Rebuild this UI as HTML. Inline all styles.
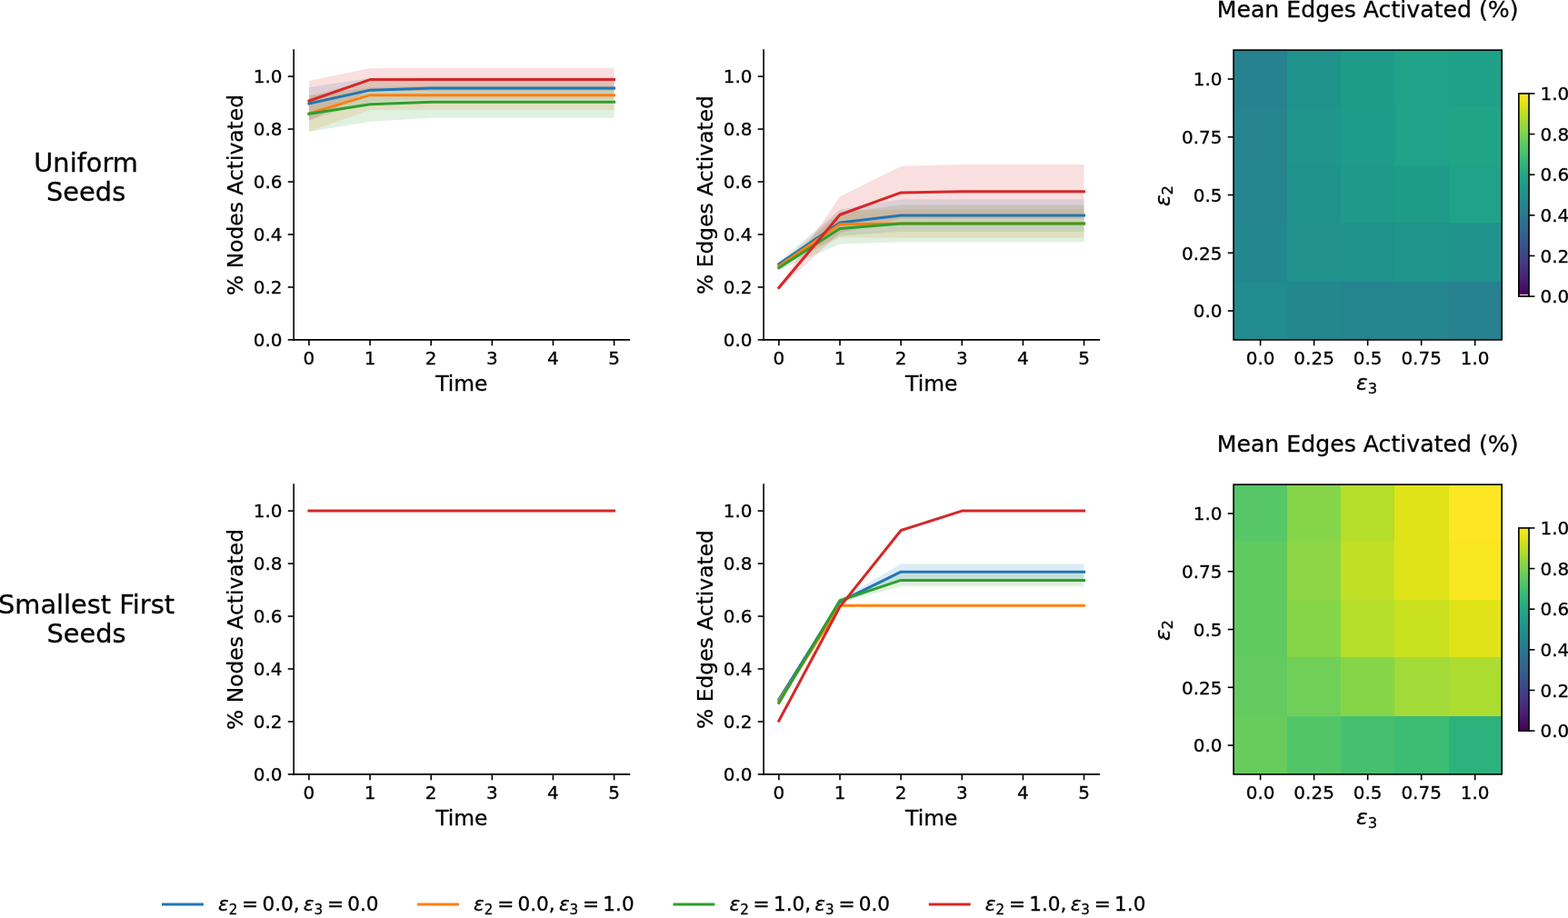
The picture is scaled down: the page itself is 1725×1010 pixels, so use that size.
<!DOCTYPE html>
<html><head><meta charset="utf-8"><title>Figure</title><style>html,body{margin:0;padding:0;background:#fff;overflow:hidden;}svg{display:block;}text{stroke:#000;stroke-width:0.3px;}</style></head><body>
<svg width="1725" height="1010" viewBox="0 0 1725 1010" font-family="'DejaVu Sans', 'Liberation Sans', sans-serif" fill="#000">
<rect width="1725" height="1010" fill="#fff"/>
<clipPath id="clip00"><rect x="323.15" y="55.1" width="369.25" height="318.8"/></clipPath>
<g clip-path="url(#clip00)">
<polygon points="339.93,96.11 407.07,86.11 474.21,84.95 541.34,84.95 608.48,84.95 675.62,84.95 675.62,109.3 608.48,109.3 541.34,109.3 474.21,109.3 407.07,112.19 339.93,132.05" fill="#1f77b4" fill-opacity="0.15"/>
<polygon points="339.93,105.24 407.07,88.43 474.21,88.43 541.34,88.43 608.48,88.43 675.62,88.43 675.62,120.89 608.48,120.89 541.34,120.89 474.21,120.89 407.07,120.89 339.93,144.65" fill="#ff7f0e" fill-opacity="0.15"/>
<polygon points="339.93,105.53 407.07,95.96 474.21,94.52 541.34,94.52 608.48,94.52 675.62,94.52 675.62,129.87 608.48,129.87 541.34,129.87 474.21,129.87 407.07,133.64 339.93,144.94" fill="#2ca02c" fill-opacity="0.15"/>
<polygon points="339.93,89.01 407.07,75.1 474.21,75.1 541.34,75.1 608.48,75.1 675.62,75.1 675.62,100.02 608.48,100.02 541.34,100.02 474.21,100.02 407.07,100.02 339.93,133.06" fill="#d62728" fill-opacity="0.15"/>
<polyline points="339.93,114.08 407.07,99.15 474.21,97.12 541.34,97.12 608.48,97.12 675.62,97.12" fill="none" stroke="#1f77b4" stroke-width="3.0" stroke-linejoin="round" stroke-linecap="square"/>
<polyline points="339.93,124.95 407.07,104.66 474.21,104.66 541.34,104.66 608.48,104.66 675.62,104.66" fill="none" stroke="#ff7f0e" stroke-width="3.0" stroke-linejoin="round" stroke-linecap="square"/>
<polyline points="339.93,125.24 407.07,114.8 474.21,112.19 541.34,112.19 608.48,112.19 675.62,112.19" fill="none" stroke="#2ca02c" stroke-width="3.0" stroke-linejoin="round" stroke-linecap="square"/>
<polyline points="339.93,111.03 407.07,87.56 474.21,87.56 541.34,87.56 608.48,87.56 675.62,87.56" fill="none" stroke="#d62728" stroke-width="3.0" stroke-linejoin="round" stroke-linecap="square"/>
</g>
<line x1="323.15" y1="55.1" x2="323.15" y2="373.9" stroke="#000" stroke-width="1.6" stroke-linecap="square"/>
<line x1="323.15" y1="373.9" x2="692.4" y2="373.9" stroke="#000" stroke-width="1.6" stroke-linecap="square"/>
<line x1="339.93" y1="373.9" x2="339.93" y2="380.3" stroke="#000" stroke-width="1.6" stroke-linecap="butt"/>
<text x="339.93" y="401.38" font-size="20" text-anchor="middle">0</text>
<line x1="407.07" y1="373.9" x2="407.07" y2="380.3" stroke="#000" stroke-width="1.6" stroke-linecap="butt"/>
<text x="407.07" y="401.38" font-size="20" text-anchor="middle">1</text>
<line x1="474.21" y1="373.9" x2="474.21" y2="380.3" stroke="#000" stroke-width="1.6" stroke-linecap="butt"/>
<text x="474.21" y="401.38" font-size="20" text-anchor="middle">2</text>
<line x1="541.34" y1="373.9" x2="541.34" y2="380.3" stroke="#000" stroke-width="1.6" stroke-linecap="butt"/>
<text x="541.34" y="401.38" font-size="20" text-anchor="middle">3</text>
<line x1="608.48" y1="373.9" x2="608.48" y2="380.3" stroke="#000" stroke-width="1.6" stroke-linecap="butt"/>
<text x="608.48" y="401.38" font-size="20" text-anchor="middle">4</text>
<line x1="675.62" y1="373.9" x2="675.62" y2="380.3" stroke="#000" stroke-width="1.6" stroke-linecap="butt"/>
<text x="675.62" y="401.38" font-size="20" text-anchor="middle">5</text>
<line x1="316.75" y1="373.9" x2="323.15" y2="373.9" stroke="#000" stroke-width="1.6" stroke-linecap="butt"/>
<text x="310.6" y="381.19" font-size="20" text-anchor="end">0.0</text>
<line x1="316.75" y1="315.94" x2="323.15" y2="315.94" stroke="#000" stroke-width="1.6" stroke-linecap="butt"/>
<text x="310.6" y="323.23" font-size="20" text-anchor="end">0.2</text>
<line x1="316.75" y1="257.97" x2="323.15" y2="257.97" stroke="#000" stroke-width="1.6" stroke-linecap="butt"/>
<text x="310.6" y="265.26" font-size="20" text-anchor="end">0.4</text>
<line x1="316.75" y1="200.01" x2="323.15" y2="200.01" stroke="#000" stroke-width="1.6" stroke-linecap="butt"/>
<text x="310.6" y="207.3" font-size="20" text-anchor="end">0.6</text>
<line x1="316.75" y1="142.05" x2="323.15" y2="142.05" stroke="#000" stroke-width="1.6" stroke-linecap="butt"/>
<text x="310.6" y="149.34" font-size="20" text-anchor="end">0.8</text>
<line x1="316.75" y1="84.08" x2="323.15" y2="84.08" stroke="#000" stroke-width="1.6" stroke-linecap="butt"/>
<text x="310.6" y="91.37" font-size="20" text-anchor="end">1.0</text>
<text x="507.77" y="430.4" font-size="23.4" text-anchor="middle">Time</text>
<text transform="translate(267.2,214.5) rotate(-90)" font-size="23.4" text-anchor="middle">% Nodes Activated</text>
<clipPath id="clip01"><rect x="840.1" y="55.1" width="369.25" height="318.8"/></clipPath>
<g clip-path="url(#clip01)">
<polygon points="856.88,288.26 924.02,230.44 991.16,219.14 1058.29,219.14 1125.43,219.14 1192.57,219.14 1192.57,255.07 1125.43,255.07 1058.29,255.07 991.16,255.07 924.02,259.42 856.88,292.9" fill="#1f77b4" fill-opacity="0.15"/>
<polygon points="856.88,290.43 924.02,232.18 991.16,230.44 1058.29,230.44 1125.43,230.44 1192.57,230.44 1192.57,261.74 1125.43,261.74 1058.29,261.74 991.16,261.74 924.02,261.16 856.88,295.07" fill="#ff7f0e" fill-opacity="0.15"/>
<polygon points="856.88,292.46 924.02,234.29 991.16,225.6 1058.29,225.6 1125.43,225.6 1192.57,225.6 1192.57,266.17 1125.43,266.17 1058.29,266.17 991.16,266.17 924.02,268.49 856.88,297.1" fill="#2ca02c" fill-opacity="0.15"/>
<polygon points="856.88,314.78 924.02,216.24 991.16,182.91 1058.29,180.88 1125.43,180.88 1192.57,180.88 1192.57,240.58 1125.43,240.58 1058.29,240.58 991.16,240.87 924.02,256.23 856.88,318.25" fill="#d62728" fill-opacity="0.15"/>
<polyline points="856.88,290.58 924.02,244.93 991.16,237.11 1058.29,237.11 1125.43,237.11 1192.57,237.11" fill="none" stroke="#1f77b4" stroke-width="3.0" stroke-linejoin="round" stroke-linecap="square"/>
<polyline points="856.88,292.75 924.02,246.67 991.16,246.09 1058.29,246.09 1125.43,246.09 1192.57,246.09" fill="none" stroke="#ff7f0e" stroke-width="3.0" stroke-linejoin="round" stroke-linecap="square"/>
<polyline points="856.88,294.78 924.02,251.39 991.16,245.89 1058.29,245.89 1125.43,245.89 1192.57,245.89" fill="none" stroke="#2ca02c" stroke-width="3.0" stroke-linejoin="round" stroke-linecap="square"/>
<polyline points="856.88,316.52 924.02,236.24 991.16,211.89 1058.29,210.73 1125.43,210.73 1192.57,210.73" fill="none" stroke="#d62728" stroke-width="3.0" stroke-linejoin="round" stroke-linecap="square"/>
</g>
<line x1="840.1" y1="55.1" x2="840.1" y2="373.9" stroke="#000" stroke-width="1.6" stroke-linecap="square"/>
<line x1="840.1" y1="373.9" x2="1209.35" y2="373.9" stroke="#000" stroke-width="1.6" stroke-linecap="square"/>
<line x1="856.88" y1="373.9" x2="856.88" y2="380.3" stroke="#000" stroke-width="1.6" stroke-linecap="butt"/>
<text x="856.88" y="401.38" font-size="20" text-anchor="middle">0</text>
<line x1="924.02" y1="373.9" x2="924.02" y2="380.3" stroke="#000" stroke-width="1.6" stroke-linecap="butt"/>
<text x="924.02" y="401.38" font-size="20" text-anchor="middle">1</text>
<line x1="991.16" y1="373.9" x2="991.16" y2="380.3" stroke="#000" stroke-width="1.6" stroke-linecap="butt"/>
<text x="991.16" y="401.38" font-size="20" text-anchor="middle">2</text>
<line x1="1058.29" y1="373.9" x2="1058.29" y2="380.3" stroke="#000" stroke-width="1.6" stroke-linecap="butt"/>
<text x="1058.29" y="401.38" font-size="20" text-anchor="middle">3</text>
<line x1="1125.43" y1="373.9" x2="1125.43" y2="380.3" stroke="#000" stroke-width="1.6" stroke-linecap="butt"/>
<text x="1125.43" y="401.38" font-size="20" text-anchor="middle">4</text>
<line x1="1192.57" y1="373.9" x2="1192.57" y2="380.3" stroke="#000" stroke-width="1.6" stroke-linecap="butt"/>
<text x="1192.57" y="401.38" font-size="20" text-anchor="middle">5</text>
<line x1="833.7" y1="373.9" x2="840.1" y2="373.9" stroke="#000" stroke-width="1.6" stroke-linecap="butt"/>
<text x="827.55" y="381.19" font-size="20" text-anchor="end">0.0</text>
<line x1="833.7" y1="315.94" x2="840.1" y2="315.94" stroke="#000" stroke-width="1.6" stroke-linecap="butt"/>
<text x="827.55" y="323.23" font-size="20" text-anchor="end">0.2</text>
<line x1="833.7" y1="257.97" x2="840.1" y2="257.97" stroke="#000" stroke-width="1.6" stroke-linecap="butt"/>
<text x="827.55" y="265.26" font-size="20" text-anchor="end">0.4</text>
<line x1="833.7" y1="200.01" x2="840.1" y2="200.01" stroke="#000" stroke-width="1.6" stroke-linecap="butt"/>
<text x="827.55" y="207.3" font-size="20" text-anchor="end">0.6</text>
<line x1="833.7" y1="142.05" x2="840.1" y2="142.05" stroke="#000" stroke-width="1.6" stroke-linecap="butt"/>
<text x="827.55" y="149.34" font-size="20" text-anchor="end">0.8</text>
<line x1="833.7" y1="84.08" x2="840.1" y2="84.08" stroke="#000" stroke-width="1.6" stroke-linecap="butt"/>
<text x="827.55" y="91.37" font-size="20" text-anchor="end">1.0</text>
<text x="1024.72" y="430.4" font-size="23.4" text-anchor="middle">Time</text>
<text transform="translate(784.15,214.5) rotate(-90)" font-size="23.4" text-anchor="middle">% Edges Activated</text>
<rect x="1357.1" y="310" width="58.9" height="63.9" fill="#228b8d" shape-rendering="crispEdges"/>
<rect x="1416" y="310" width="59" height="63.9" fill="#23888e" shape-rendering="crispEdges"/>
<rect x="1475" y="310" width="59" height="63.9" fill="#25858e" shape-rendering="crispEdges"/>
<rect x="1534" y="310" width="59.6" height="63.9" fill="#25858e" shape-rendering="crispEdges"/>
<rect x="1593.6" y="310" width="58.6" height="63.9" fill="#26828e" shape-rendering="crispEdges"/>
<rect x="1357.1" y="245" width="58.9" height="65" fill="#24868e" shape-rendering="crispEdges"/>
<rect x="1416" y="245" width="59" height="65" fill="#21918c" shape-rendering="crispEdges"/>
<rect x="1475" y="245" width="59" height="65" fill="#20928c" shape-rendering="crispEdges"/>
<rect x="1534" y="245" width="59.6" height="65" fill="#1f958b" shape-rendering="crispEdges"/>
<rect x="1593.6" y="245" width="58.6" height="65" fill="#20938c" shape-rendering="crispEdges"/>
<rect x="1357.1" y="182" width="58.9" height="63" fill="#25858e" shape-rendering="crispEdges"/>
<rect x="1416" y="182" width="59" height="63" fill="#20928c" shape-rendering="crispEdges"/>
<rect x="1475" y="182" width="59" height="63" fill="#1f9a8a" shape-rendering="crispEdges"/>
<rect x="1534" y="182" width="59.6" height="63" fill="#1e9c89" shape-rendering="crispEdges"/>
<rect x="1593.6" y="182" width="58.6" height="63" fill="#1fa287" shape-rendering="crispEdges"/>
<rect x="1357.1" y="116.8" width="58.9" height="65.2" fill="#25848e" shape-rendering="crispEdges"/>
<rect x="1416" y="116.8" width="59" height="65.2" fill="#1f958b" shape-rendering="crispEdges"/>
<rect x="1475" y="116.8" width="59" height="65.2" fill="#1e9b8a" shape-rendering="crispEdges"/>
<rect x="1534" y="116.8" width="59.6" height="65.2" fill="#1fa287" shape-rendering="crispEdges"/>
<rect x="1593.6" y="116.8" width="58.6" height="65.2" fill="#20a486" shape-rendering="crispEdges"/>
<rect x="1357.1" y="55.1" width="58.9" height="61.7" fill="#26828e" shape-rendering="crispEdges"/>
<rect x="1416" y="55.1" width="59" height="61.7" fill="#20928c" shape-rendering="crispEdges"/>
<rect x="1475" y="55.1" width="59" height="61.7" fill="#1e9c89" shape-rendering="crispEdges"/>
<rect x="1534" y="55.1" width="59.6" height="61.7" fill="#1fa287" shape-rendering="crispEdges"/>
<rect x="1593.6" y="55.1" width="58.6" height="61.7" fill="#1fa088" shape-rendering="crispEdges"/>
<rect x="1357.1" y="55.1" width="295.1" height="318.8" fill="none" stroke="#000" stroke-width="1.6"/>
<line x1="1386.61" y1="373.9" x2="1386.61" y2="380.3" stroke="#000" stroke-width="1.6" stroke-linecap="butt"/>
<text x="1386.61" y="401.38" font-size="20" text-anchor="middle">0.0</text>
<line x1="1350.7" y1="342.02" x2="1357.1" y2="342.02" stroke="#000" stroke-width="1.6" stroke-linecap="butt"/>
<text x="1344.55" y="349.31" font-size="20" text-anchor="end">0.0</text>
<line x1="1445.63" y1="373.9" x2="1445.63" y2="380.3" stroke="#000" stroke-width="1.6" stroke-linecap="butt"/>
<text x="1445.63" y="401.38" font-size="20" text-anchor="middle">0.25</text>
<line x1="1350.7" y1="278.26" x2="1357.1" y2="278.26" stroke="#000" stroke-width="1.6" stroke-linecap="butt"/>
<text x="1344.55" y="285.55" font-size="20" text-anchor="end">0.25</text>
<line x1="1504.65" y1="373.9" x2="1504.65" y2="380.3" stroke="#000" stroke-width="1.6" stroke-linecap="butt"/>
<text x="1504.65" y="401.38" font-size="20" text-anchor="middle">0.5</text>
<line x1="1350.7" y1="214.5" x2="1357.1" y2="214.5" stroke="#000" stroke-width="1.6" stroke-linecap="butt"/>
<text x="1344.55" y="221.79" font-size="20" text-anchor="end">0.5</text>
<line x1="1563.67" y1="373.9" x2="1563.67" y2="380.3" stroke="#000" stroke-width="1.6" stroke-linecap="butt"/>
<text x="1563.67" y="401.38" font-size="20" text-anchor="middle">0.75</text>
<line x1="1350.7" y1="150.74" x2="1357.1" y2="150.74" stroke="#000" stroke-width="1.6" stroke-linecap="butt"/>
<text x="1344.55" y="158.03" font-size="20" text-anchor="end">0.75</text>
<line x1="1622.69" y1="373.9" x2="1622.69" y2="380.3" stroke="#000" stroke-width="1.6" stroke-linecap="butt"/>
<text x="1622.69" y="401.38" font-size="20" text-anchor="middle">1.0</text>
<line x1="1350.7" y1="86.98" x2="1357.1" y2="86.98" stroke="#000" stroke-width="1.6" stroke-linecap="butt"/>
<text x="1344.55" y="94.27" font-size="20" text-anchor="end">1.0</text>
<text x="1504.65" y="19.2" font-size="25.2" text-anchor="middle">Mean Edges Activated (%)</text>
<text x="1492.12" y="429" font-size="23.4"><tspan font-style="italic">ε</tspan><tspan x="1504.77" y="432.84" font-size="16.38">3</tspan></text>
<g transform="translate(1286.5,215.5) rotate(-90)"><text x="-11.53" y="0" font-size="23.4"><tspan font-style="italic">ε</tspan><tspan x="1.12" y="3.84" font-size="16.38">2</tspan></text></g>
<linearGradient id="vgrad0" x1="0" y1="0" x2="0" y2="1"><stop offset="0.0000" stop-color="#fde725"/><stop offset="0.0312" stop-color="#ece51b"/><stop offset="0.0625" stop-color="#d8e219"/><stop offset="0.0938" stop-color="#c2df23"/><stop offset="0.1250" stop-color="#addc30"/><stop offset="0.1562" stop-color="#98d83e"/><stop offset="0.1875" stop-color="#84d44b"/><stop offset="0.2188" stop-color="#70cf57"/><stop offset="0.2500" stop-color="#5ec962"/><stop offset="0.2812" stop-color="#4ec36b"/><stop offset="0.3125" stop-color="#3fbc73"/><stop offset="0.3438" stop-color="#32b67a"/><stop offset="0.3750" stop-color="#28ae80"/><stop offset="0.4062" stop-color="#22a785"/><stop offset="0.4375" stop-color="#1fa088"/><stop offset="0.4688" stop-color="#1f988b"/><stop offset="0.5000" stop-color="#21918c"/><stop offset="0.5312" stop-color="#23898e"/><stop offset="0.5625" stop-color="#26828e"/><stop offset="0.5938" stop-color="#297a8e"/><stop offset="0.6250" stop-color="#2c728e"/><stop offset="0.6562" stop-color="#2f6b8e"/><stop offset="0.6875" stop-color="#33638d"/><stop offset="0.7188" stop-color="#375b8d"/><stop offset="0.7500" stop-color="#3b528b"/><stop offset="0.7812" stop-color="#3e4989"/><stop offset="0.8125" stop-color="#424086"/><stop offset="0.8438" stop-color="#453781"/><stop offset="0.8750" stop-color="#472d7b"/><stop offset="0.9062" stop-color="#482374"/><stop offset="0.9375" stop-color="#48186a"/><stop offset="0.9688" stop-color="#470d60"/><stop offset="1.0000" stop-color="#440154"/></linearGradient>
<rect x="1670.85" y="102.92" width="11.2" height="223.16" fill="url(#vgrad0)"/>
<rect x="1671.65" y="323.88" width="9.6" height="1.2" fill="#e9d8e9"/>
<rect x="1670.85" y="102.92" width="11.2" height="223.16" fill="none" stroke="#000" stroke-width="1.6"/>
<line x1="1682.05" y1="326.08" x2="1688.45" y2="326.08" stroke="#000" stroke-width="1.6" stroke-linecap="butt"/>
<text x="1694.5" y="333.37" font-size="20" text-anchor="start">0.0</text>
<line x1="1682.05" y1="281.45" x2="1688.45" y2="281.45" stroke="#000" stroke-width="1.6" stroke-linecap="butt"/>
<text x="1694.5" y="288.74" font-size="20" text-anchor="start">0.2</text>
<line x1="1682.05" y1="236.82" x2="1688.45" y2="236.82" stroke="#000" stroke-width="1.6" stroke-linecap="butt"/>
<text x="1694.5" y="244.11" font-size="20" text-anchor="start">0.4</text>
<line x1="1682.05" y1="192.18" x2="1688.45" y2="192.18" stroke="#000" stroke-width="1.6" stroke-linecap="butt"/>
<text x="1694.5" y="199.47" font-size="20" text-anchor="start">0.6</text>
<line x1="1682.05" y1="147.55" x2="1688.45" y2="147.55" stroke="#000" stroke-width="1.6" stroke-linecap="butt"/>
<text x="1694.5" y="154.84" font-size="20" text-anchor="start">0.8</text>
<line x1="1682.05" y1="102.92" x2="1688.45" y2="102.92" stroke="#000" stroke-width="1.6" stroke-linecap="butt"/>
<text x="1694.5" y="110.21" font-size="20" text-anchor="start">1.0</text>
<clipPath id="clip10"><rect x="323.15" y="533.1" width="369.25" height="318.8"/></clipPath>
<g clip-path="url(#clip10)">
<polyline points="339.93,562.08 407.07,562.08 474.21,562.08 541.34,562.08 608.48,562.08 675.62,562.08" fill="none" stroke="#d62728" stroke-width="3.0" stroke-linejoin="round" stroke-linecap="square"/>
</g>
<line x1="323.15" y1="533.1" x2="323.15" y2="851.9" stroke="#000" stroke-width="1.6" stroke-linecap="square"/>
<line x1="323.15" y1="851.9" x2="692.4" y2="851.9" stroke="#000" stroke-width="1.6" stroke-linecap="square"/>
<line x1="339.93" y1="851.9" x2="339.93" y2="858.3" stroke="#000" stroke-width="1.6" stroke-linecap="butt"/>
<text x="339.93" y="879.38" font-size="20" text-anchor="middle">0</text>
<line x1="407.07" y1="851.9" x2="407.07" y2="858.3" stroke="#000" stroke-width="1.6" stroke-linecap="butt"/>
<text x="407.07" y="879.38" font-size="20" text-anchor="middle">1</text>
<line x1="474.21" y1="851.9" x2="474.21" y2="858.3" stroke="#000" stroke-width="1.6" stroke-linecap="butt"/>
<text x="474.21" y="879.38" font-size="20" text-anchor="middle">2</text>
<line x1="541.34" y1="851.9" x2="541.34" y2="858.3" stroke="#000" stroke-width="1.6" stroke-linecap="butt"/>
<text x="541.34" y="879.38" font-size="20" text-anchor="middle">3</text>
<line x1="608.48" y1="851.9" x2="608.48" y2="858.3" stroke="#000" stroke-width="1.6" stroke-linecap="butt"/>
<text x="608.48" y="879.38" font-size="20" text-anchor="middle">4</text>
<line x1="675.62" y1="851.9" x2="675.62" y2="858.3" stroke="#000" stroke-width="1.6" stroke-linecap="butt"/>
<text x="675.62" y="879.38" font-size="20" text-anchor="middle">5</text>
<line x1="316.75" y1="851.9" x2="323.15" y2="851.9" stroke="#000" stroke-width="1.6" stroke-linecap="butt"/>
<text x="310.6" y="859.19" font-size="20" text-anchor="end">0.0</text>
<line x1="316.75" y1="793.94" x2="323.15" y2="793.94" stroke="#000" stroke-width="1.6" stroke-linecap="butt"/>
<text x="310.6" y="801.23" font-size="20" text-anchor="end">0.2</text>
<line x1="316.75" y1="735.97" x2="323.15" y2="735.97" stroke="#000" stroke-width="1.6" stroke-linecap="butt"/>
<text x="310.6" y="743.26" font-size="20" text-anchor="end">0.4</text>
<line x1="316.75" y1="678.01" x2="323.15" y2="678.01" stroke="#000" stroke-width="1.6" stroke-linecap="butt"/>
<text x="310.6" y="685.3" font-size="20" text-anchor="end">0.6</text>
<line x1="316.75" y1="620.05" x2="323.15" y2="620.05" stroke="#000" stroke-width="1.6" stroke-linecap="butt"/>
<text x="310.6" y="627.34" font-size="20" text-anchor="end">0.8</text>
<line x1="316.75" y1="562.08" x2="323.15" y2="562.08" stroke="#000" stroke-width="1.6" stroke-linecap="butt"/>
<text x="310.6" y="569.37" font-size="20" text-anchor="end">1.0</text>
<text x="507.77" y="908.4" font-size="23.4" text-anchor="middle">Time</text>
<text transform="translate(267.2,692.5) rotate(-90)" font-size="23.4" text-anchor="middle">% Nodes Activated</text>
<clipPath id="clip11"><rect x="840.1" y="533.1" width="369.25" height="318.8"/></clipPath>
<g clip-path="url(#clip11)">
<polygon points="856.88,769.59 924.02,659.75 991.16,620.48 1058.29,620.48 1125.43,620.48 1192.57,620.48 1192.57,637.87 1125.43,637.87 1058.29,637.87 991.16,637.87 924.02,664.39 856.88,769.59" fill="#1f77b4" fill-opacity="0.15"/>
<polygon points="856.88,771.33 924.02,665.26 991.16,665.26 1058.29,665.26 1125.43,665.26 1192.57,665.26 1192.57,667 1125.43,667 1058.29,667 991.16,667 924.02,667 856.88,771.33" fill="#ff7f0e" fill-opacity="0.15"/>
<polygon points="856.88,773.36 924.02,658.3 991.16,631.44 1058.29,631.44 1125.43,631.44 1192.57,631.44 1192.57,645.35 1125.43,645.35 1058.29,645.35 991.16,645.35 924.02,662.94 856.88,773.36" fill="#2ca02c" fill-opacity="0.15"/>
<polyline points="856.88,769.59 924.02,662.07 991.16,629.17 1058.29,629.17 1125.43,629.17 1192.57,629.17" fill="none" stroke="#1f77b4" stroke-width="3.0" stroke-linejoin="round" stroke-linecap="square"/>
<polyline points="856.88,771.33 924.02,666.13 991.16,666.13 1058.29,666.13 1125.43,666.13 1192.57,666.13" fill="none" stroke="#ff7f0e" stroke-width="3.0" stroke-linejoin="round" stroke-linecap="square"/>
<polyline points="856.88,773.36 924.02,660.62 991.16,638.39 1058.29,638.39 1125.43,638.39 1192.57,638.39" fill="none" stroke="#2ca02c" stroke-width="3.0" stroke-linejoin="round" stroke-linecap="square"/>
<polyline points="856.88,793.07 924.02,667.58 991.16,583.53 1058.29,562.08 1125.43,562.08 1192.57,562.08" fill="none" stroke="#d62728" stroke-width="3.0" stroke-linejoin="round" stroke-linecap="square"/>
</g>
<line x1="840.1" y1="533.1" x2="840.1" y2="851.9" stroke="#000" stroke-width="1.6" stroke-linecap="square"/>
<line x1="840.1" y1="851.9" x2="1209.35" y2="851.9" stroke="#000" stroke-width="1.6" stroke-linecap="square"/>
<line x1="856.88" y1="851.9" x2="856.88" y2="858.3" stroke="#000" stroke-width="1.6" stroke-linecap="butt"/>
<text x="856.88" y="879.38" font-size="20" text-anchor="middle">0</text>
<line x1="924.02" y1="851.9" x2="924.02" y2="858.3" stroke="#000" stroke-width="1.6" stroke-linecap="butt"/>
<text x="924.02" y="879.38" font-size="20" text-anchor="middle">1</text>
<line x1="991.16" y1="851.9" x2="991.16" y2="858.3" stroke="#000" stroke-width="1.6" stroke-linecap="butt"/>
<text x="991.16" y="879.38" font-size="20" text-anchor="middle">2</text>
<line x1="1058.29" y1="851.9" x2="1058.29" y2="858.3" stroke="#000" stroke-width="1.6" stroke-linecap="butt"/>
<text x="1058.29" y="879.38" font-size="20" text-anchor="middle">3</text>
<line x1="1125.43" y1="851.9" x2="1125.43" y2="858.3" stroke="#000" stroke-width="1.6" stroke-linecap="butt"/>
<text x="1125.43" y="879.38" font-size="20" text-anchor="middle">4</text>
<line x1="1192.57" y1="851.9" x2="1192.57" y2="858.3" stroke="#000" stroke-width="1.6" stroke-linecap="butt"/>
<text x="1192.57" y="879.38" font-size="20" text-anchor="middle">5</text>
<line x1="833.7" y1="851.9" x2="840.1" y2="851.9" stroke="#000" stroke-width="1.6" stroke-linecap="butt"/>
<text x="827.55" y="859.19" font-size="20" text-anchor="end">0.0</text>
<line x1="833.7" y1="793.94" x2="840.1" y2="793.94" stroke="#000" stroke-width="1.6" stroke-linecap="butt"/>
<text x="827.55" y="801.23" font-size="20" text-anchor="end">0.2</text>
<line x1="833.7" y1="735.97" x2="840.1" y2="735.97" stroke="#000" stroke-width="1.6" stroke-linecap="butt"/>
<text x="827.55" y="743.26" font-size="20" text-anchor="end">0.4</text>
<line x1="833.7" y1="678.01" x2="840.1" y2="678.01" stroke="#000" stroke-width="1.6" stroke-linecap="butt"/>
<text x="827.55" y="685.3" font-size="20" text-anchor="end">0.6</text>
<line x1="833.7" y1="620.05" x2="840.1" y2="620.05" stroke="#000" stroke-width="1.6" stroke-linecap="butt"/>
<text x="827.55" y="627.34" font-size="20" text-anchor="end">0.8</text>
<line x1="833.7" y1="562.08" x2="840.1" y2="562.08" stroke="#000" stroke-width="1.6" stroke-linecap="butt"/>
<text x="827.55" y="569.37" font-size="20" text-anchor="end">1.0</text>
<text x="1024.72" y="908.4" font-size="23.4" text-anchor="middle">Time</text>
<text transform="translate(784.15,692.5) rotate(-90)" font-size="23.4" text-anchor="middle">% Edges Activated</text>
<rect x="1357.1" y="788" width="58.9" height="63.9" fill="#67cc5c" shape-rendering="crispEdges"/>
<rect x="1416" y="788" width="59" height="63.9" fill="#52c569" shape-rendering="crispEdges"/>
<rect x="1475" y="788" width="59" height="63.9" fill="#46c06f" shape-rendering="crispEdges"/>
<rect x="1534" y="788" width="59.6" height="63.9" fill="#3dbc74" shape-rendering="crispEdges"/>
<rect x="1593.6" y="788" width="58.6" height="63.9" fill="#2db27d" shape-rendering="crispEdges"/>
<rect x="1357.1" y="723" width="58.9" height="65" fill="#63cb5f" shape-rendering="crispEdges"/>
<rect x="1416" y="723" width="59" height="65" fill="#70cf57" shape-rendering="crispEdges"/>
<rect x="1475" y="723" width="59" height="65" fill="#86d549" shape-rendering="crispEdges"/>
<rect x="1534" y="723" width="59.6" height="65" fill="#a2da37" shape-rendering="crispEdges"/>
<rect x="1593.6" y="723" width="58.6" height="65" fill="#addc30" shape-rendering="crispEdges"/>
<rect x="1357.1" y="660" width="58.9" height="63" fill="#60ca60" shape-rendering="crispEdges"/>
<rect x="1416" y="660" width="59" height="63" fill="#86d549" shape-rendering="crispEdges"/>
<rect x="1475" y="660" width="59" height="63" fill="#b5de2b" shape-rendering="crispEdges"/>
<rect x="1534" y="660" width="59.6" height="63" fill="#cae11f" shape-rendering="crispEdges"/>
<rect x="1593.6" y="660" width="58.6" height="63" fill="#dfe318" shape-rendering="crispEdges"/>
<rect x="1357.1" y="594.8" width="58.9" height="65.2" fill="#60ca60" shape-rendering="crispEdges"/>
<rect x="1416" y="594.8" width="59" height="65.2" fill="#8ed645" shape-rendering="crispEdges"/>
<rect x="1475" y="594.8" width="59" height="65.2" fill="#c0df25" shape-rendering="crispEdges"/>
<rect x="1534" y="594.8" width="59.6" height="65.2" fill="#dfe318" shape-rendering="crispEdges"/>
<rect x="1593.6" y="594.8" width="58.6" height="65.2" fill="#f8e621" shape-rendering="crispEdges"/>
<rect x="1357.1" y="533.1" width="58.9" height="61.7" fill="#56c667" shape-rendering="crispEdges"/>
<rect x="1416" y="533.1" width="59" height="61.7" fill="#86d549" shape-rendering="crispEdges"/>
<rect x="1475" y="533.1" width="59" height="61.7" fill="#b5de2b" shape-rendering="crispEdges"/>
<rect x="1534" y="533.1" width="59.6" height="61.7" fill="#dfe318" shape-rendering="crispEdges"/>
<rect x="1593.6" y="533.1" width="58.6" height="61.7" fill="#fde725" shape-rendering="crispEdges"/>
<rect x="1357.1" y="533.1" width="295.1" height="318.8" fill="none" stroke="#000" stroke-width="1.6"/>
<line x1="1386.61" y1="851.9" x2="1386.61" y2="858.3" stroke="#000" stroke-width="1.6" stroke-linecap="butt"/>
<text x="1386.61" y="879.38" font-size="20" text-anchor="middle">0.0</text>
<line x1="1350.7" y1="820.02" x2="1357.1" y2="820.02" stroke="#000" stroke-width="1.6" stroke-linecap="butt"/>
<text x="1344.55" y="827.31" font-size="20" text-anchor="end">0.0</text>
<line x1="1445.63" y1="851.9" x2="1445.63" y2="858.3" stroke="#000" stroke-width="1.6" stroke-linecap="butt"/>
<text x="1445.63" y="879.38" font-size="20" text-anchor="middle">0.25</text>
<line x1="1350.7" y1="756.26" x2="1357.1" y2="756.26" stroke="#000" stroke-width="1.6" stroke-linecap="butt"/>
<text x="1344.55" y="763.55" font-size="20" text-anchor="end">0.25</text>
<line x1="1504.65" y1="851.9" x2="1504.65" y2="858.3" stroke="#000" stroke-width="1.6" stroke-linecap="butt"/>
<text x="1504.65" y="879.38" font-size="20" text-anchor="middle">0.5</text>
<line x1="1350.7" y1="692.5" x2="1357.1" y2="692.5" stroke="#000" stroke-width="1.6" stroke-linecap="butt"/>
<text x="1344.55" y="699.79" font-size="20" text-anchor="end">0.5</text>
<line x1="1563.67" y1="851.9" x2="1563.67" y2="858.3" stroke="#000" stroke-width="1.6" stroke-linecap="butt"/>
<text x="1563.67" y="879.38" font-size="20" text-anchor="middle">0.75</text>
<line x1="1350.7" y1="628.74" x2="1357.1" y2="628.74" stroke="#000" stroke-width="1.6" stroke-linecap="butt"/>
<text x="1344.55" y="636.03" font-size="20" text-anchor="end">0.75</text>
<line x1="1622.69" y1="851.9" x2="1622.69" y2="858.3" stroke="#000" stroke-width="1.6" stroke-linecap="butt"/>
<text x="1622.69" y="879.38" font-size="20" text-anchor="middle">1.0</text>
<line x1="1350.7" y1="564.98" x2="1357.1" y2="564.98" stroke="#000" stroke-width="1.6" stroke-linecap="butt"/>
<text x="1344.55" y="572.27" font-size="20" text-anchor="end">1.0</text>
<text x="1504.65" y="497.2" font-size="25.2" text-anchor="middle">Mean Edges Activated (%)</text>
<text x="1492.12" y="907" font-size="23.4"><tspan font-style="italic">ε</tspan><tspan x="1504.77" y="910.84" font-size="16.38">3</tspan></text>
<g transform="translate(1286.5,693.5) rotate(-90)"><text x="-11.53" y="0" font-size="23.4"><tspan font-style="italic">ε</tspan><tspan x="1.12" y="3.84" font-size="16.38">2</tspan></text></g>
<linearGradient id="vgrad1" x1="0" y1="0" x2="0" y2="1"><stop offset="0.0000" stop-color="#fde725"/><stop offset="0.0312" stop-color="#ece51b"/><stop offset="0.0625" stop-color="#d8e219"/><stop offset="0.0938" stop-color="#c2df23"/><stop offset="0.1250" stop-color="#addc30"/><stop offset="0.1562" stop-color="#98d83e"/><stop offset="0.1875" stop-color="#84d44b"/><stop offset="0.2188" stop-color="#70cf57"/><stop offset="0.2500" stop-color="#5ec962"/><stop offset="0.2812" stop-color="#4ec36b"/><stop offset="0.3125" stop-color="#3fbc73"/><stop offset="0.3438" stop-color="#32b67a"/><stop offset="0.3750" stop-color="#28ae80"/><stop offset="0.4062" stop-color="#22a785"/><stop offset="0.4375" stop-color="#1fa088"/><stop offset="0.4688" stop-color="#1f988b"/><stop offset="0.5000" stop-color="#21918c"/><stop offset="0.5312" stop-color="#23898e"/><stop offset="0.5625" stop-color="#26828e"/><stop offset="0.5938" stop-color="#297a8e"/><stop offset="0.6250" stop-color="#2c728e"/><stop offset="0.6562" stop-color="#2f6b8e"/><stop offset="0.6875" stop-color="#33638d"/><stop offset="0.7188" stop-color="#375b8d"/><stop offset="0.7500" stop-color="#3b528b"/><stop offset="0.7812" stop-color="#3e4989"/><stop offset="0.8125" stop-color="#424086"/><stop offset="0.8438" stop-color="#453781"/><stop offset="0.8750" stop-color="#472d7b"/><stop offset="0.9062" stop-color="#482374"/><stop offset="0.9375" stop-color="#48186a"/><stop offset="0.9688" stop-color="#470d60"/><stop offset="1.0000" stop-color="#440154"/></linearGradient>
<rect x="1670.85" y="580.92" width="11.2" height="223.16" fill="url(#vgrad1)"/>
<rect x="1670.85" y="580.92" width="11.2" height="223.16" fill="none" stroke="#000" stroke-width="1.6"/>
<line x1="1682.05" y1="804.08" x2="1688.45" y2="804.08" stroke="#000" stroke-width="1.6" stroke-linecap="butt"/>
<text x="1694.5" y="811.37" font-size="20" text-anchor="start">0.0</text>
<line x1="1682.05" y1="759.45" x2="1688.45" y2="759.45" stroke="#000" stroke-width="1.6" stroke-linecap="butt"/>
<text x="1694.5" y="766.74" font-size="20" text-anchor="start">0.2</text>
<line x1="1682.05" y1="714.82" x2="1688.45" y2="714.82" stroke="#000" stroke-width="1.6" stroke-linecap="butt"/>
<text x="1694.5" y="722.11" font-size="20" text-anchor="start">0.4</text>
<line x1="1682.05" y1="670.18" x2="1688.45" y2="670.18" stroke="#000" stroke-width="1.6" stroke-linecap="butt"/>
<text x="1694.5" y="677.47" font-size="20" text-anchor="start">0.6</text>
<line x1="1682.05" y1="625.55" x2="1688.45" y2="625.55" stroke="#000" stroke-width="1.6" stroke-linecap="butt"/>
<text x="1694.5" y="632.84" font-size="20" text-anchor="start">0.8</text>
<line x1="1682.05" y1="580.92" x2="1688.45" y2="580.92" stroke="#000" stroke-width="1.6" stroke-linecap="butt"/>
<text x="1694.5" y="588.21" font-size="20" text-anchor="start">1.0</text>
<text x="94.6" y="189.1" font-size="28.85" text-anchor="middle">Uniform</text>
<text x="94.6" y="221.2" font-size="28.85" text-anchor="middle">Seeds</text>
<text x="95" y="674.8" font-size="28.85" text-anchor="middle">Smallest First</text>
<text x="95" y="707" font-size="28.85" text-anchor="middle">Seeds</text>
<line x1="179.5" y1="995" x2="222.4" y2="995" stroke="#1f77b4" stroke-width="3" stroke-linecap="square"/>
<text font-size="21.6"><tspan x="240" y="1002.3" font-style="italic">ε</tspan><tspan x="251.67" y="1005.84" font-size="15.12">2</tspan><tspan x="266.09" y="1002.3">=</tspan><tspan x="288.4" y="1002.3">0</tspan><tspan x="302.14" y="1002.3">.</tspan><tspan x="309.01" y="1002.3">0</tspan><tspan x="322.75" y="1002.3">,</tspan><tspan x="333.83" y="1002.3" font-style="italic">ε</tspan><tspan x="345.5" y="1005.84" font-size="15.12">3</tspan><tspan x="359.92" y="1002.3">=</tspan><tspan x="382.23" y="1002.3">0</tspan><tspan x="395.97" y="1002.3">.</tspan><tspan x="402.84" y="1002.3">0</tspan></text>
<line x1="460.6" y1="995" x2="503.5" y2="995" stroke="#ff7f0e" stroke-width="3" stroke-linecap="square"/>
<text font-size="21.6"><tspan x="521.1" y="1002.3" font-style="italic">ε</tspan><tspan x="532.77" y="1005.84" font-size="15.12">2</tspan><tspan x="547.19" y="1002.3">=</tspan><tspan x="569.5" y="1002.3">0</tspan><tspan x="583.24" y="1002.3">.</tspan><tspan x="590.11" y="1002.3">0</tspan><tspan x="603.85" y="1002.3">,</tspan><tspan x="614.93" y="1002.3" font-style="italic">ε</tspan><tspan x="626.6" y="1005.84" font-size="15.12">3</tspan><tspan x="641.02" y="1002.3">=</tspan><tspan x="663.33" y="1002.3">1</tspan><tspan x="677.07" y="1002.3">.</tspan><tspan x="683.94" y="1002.3">0</tspan></text>
<line x1="742" y1="995" x2="784.9" y2="995" stroke="#2ca02c" stroke-width="3" stroke-linecap="square"/>
<text font-size="21.6"><tspan x="802.5" y="1002.3" font-style="italic">ε</tspan><tspan x="814.17" y="1005.84" font-size="15.12">2</tspan><tspan x="828.59" y="1002.3">=</tspan><tspan x="850.9" y="1002.3">1</tspan><tspan x="864.64" y="1002.3">.</tspan><tspan x="871.51" y="1002.3">0</tspan><tspan x="885.25" y="1002.3">,</tspan><tspan x="896.33" y="1002.3" font-style="italic">ε</tspan><tspan x="908" y="1005.84" font-size="15.12">3</tspan><tspan x="922.42" y="1002.3">=</tspan><tspan x="944.73" y="1002.3">0</tspan><tspan x="958.47" y="1002.3">.</tspan><tspan x="965.34" y="1002.3">0</tspan></text>
<line x1="1023.3" y1="995" x2="1066.2" y2="995" stroke="#d62728" stroke-width="3" stroke-linecap="square"/>
<text font-size="21.6"><tspan x="1083.8" y="1002.3" font-style="italic">ε</tspan><tspan x="1095.47" y="1005.84" font-size="15.12">2</tspan><tspan x="1109.89" y="1002.3">=</tspan><tspan x="1132.2" y="1002.3">1</tspan><tspan x="1145.94" y="1002.3">.</tspan><tspan x="1152.81" y="1002.3">0</tspan><tspan x="1166.55" y="1002.3">,</tspan><tspan x="1177.63" y="1002.3" font-style="italic">ε</tspan><tspan x="1189.3" y="1005.84" font-size="15.12">3</tspan><tspan x="1203.72" y="1002.3">=</tspan><tspan x="1226.03" y="1002.3">1</tspan><tspan x="1239.77" y="1002.3">.</tspan><tspan x="1246.64" y="1002.3">0</tspan></text>
</svg>
</body></html>
